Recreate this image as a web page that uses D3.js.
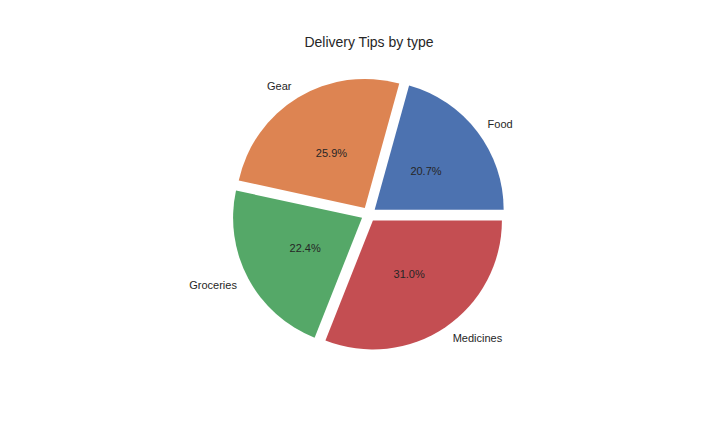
<!DOCTYPE html>
<html><head><meta charset="utf-8">
<script src="https://cdn.jsdelivr.net/npm/d3@7"></script>
<style>body{margin:0;background:#fff}svg{display:block}</style>
</head><body>
<script>
const categories = ["Food", "Gear", "Groceries", "Medicines"];
const values = [20.7, 25.9, 22.4, 31.0];
const colors = ["#4C72B0", "#DD8452", "#55A868", "#C44E52"];
const title = "Delivery Tips by type";

const W = 720, H = 432;
const cx = 368.7, cy = 214.3, r = 129, explode = 7.5;
const font = "Arial, 'Liberation Sans', sans-serif";

const svg = d3.select("body").append("svg").attr("width", W).attr("height", H);
svg.append("rect").attr("width", W).attr("height", H).attr("fill", "#fff");

const pie = d3.pie().sort(null).value(d => d).startAngle(Math.PI / 2).endAngle(Math.PI / 2 - 2 * Math.PI);
const arcs = pie(values);
const arc = d3.arc().innerRadius(0).outerRadius(r);
const total = d3.sum(values);

const g = svg.append("g").attr("transform", `translate(${cx},${cy})`);
arcs.forEach((a, i) => {
  const mid = (a.startAngle + a.endAngle) / 2;
  const ux = Math.sin(mid), uy = -Math.cos(mid);
  const ox = ux * explode, oy = uy * explode;
  const sg = g.append("g").attr("transform", `translate(${ox},${oy})`);
  sg.append("path").attr("d", arc(a)).attr("fill", colors[i]);
  const lr = 1.1 * r;
  sg.append("text")
    .attr("x", ux * lr).attr("y", uy * lr)
    .attr("text-anchor", ux > 0 ? "start" : "end")
    .attr("dominant-baseline", "central")
    .attr("font-family", font).attr("font-size", 11).attr("fill", "#262626")
    .text(categories[i]);
  const pr = 0.5 * r;
  sg.append("text")
    .attr("x", ux * pr).attr("y", uy * pr)
    .attr("text-anchor", "middle")
    .attr("dominant-baseline", "central")
    .attr("font-family", font).attr("font-size", 11).attr("fill", "#262626")
    .text((a.value / total * 100).toFixed(1) + "%");
});

svg.append("text").attr("x", 369).attr("y", 42)
  .attr("text-anchor", "middle").attr("dominant-baseline", "central")
  .attr("font-family", font).attr("font-size", 14).attr("fill", "#262626")
  .text(title);
</script>
</body></html>
